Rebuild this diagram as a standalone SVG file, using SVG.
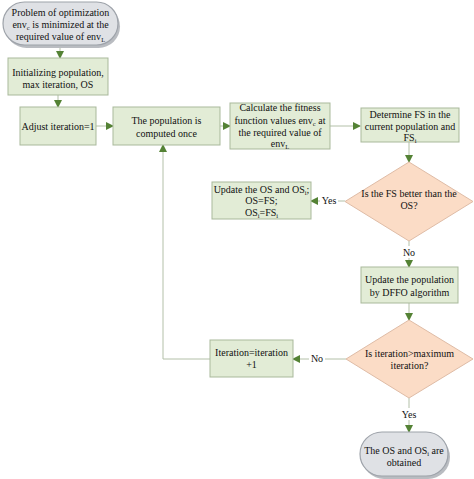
<svg xmlns="http://www.w3.org/2000/svg" width="474" height="479" viewBox="0 0 474 479">
<style>
text{font-family:"Liberation Serif","Times New Roman",serif;font-size:10px;fill:#111;text-anchor:middle}
.sub{font-size:6.5px}
.box{fill:#e2ecd6;stroke:#a9b99b;stroke-width:1}
.dia{fill:#fbdcc6;stroke:#dfbca6;stroke-width:1}
.term{fill:#dfe1e5;stroke:#9ea3aa;stroke-width:1.2}
.sh{fill:#b9bcc1}
.ln{fill:none;stroke:#b3c0a8;stroke-width:1}
.lbl{fill:#fff}
</style>
<defs>
<marker id="ah" markerWidth="8" markerHeight="8" refX="7" refY="4" orient="auto" markerUnits="userSpaceOnUse">
<path d="M0,0 L8,4 L0,8 Z" fill="#548235"/>
</marker>
</defs>
<rect width="474" height="479" fill="#fff"/>
<g id="connectors">
<path class="ln" d="M60,47 V58" marker-end="url(#ah)"/>
<path class="ln" d="M58,95 V107" marker-end="url(#ah)"/>
<path class="ln" d="M96,126 H113" marker-end="url(#ah)"/>
<path class="ln" d="M220,126 H230" marker-end="url(#ah)"/>
<path class="ln" d="M330,126 H360" marker-end="url(#ah)"/>
<path class="ln" d="M409,142 V162" marker-end="url(#ah)"/>
<path class="ln" d="M345,201 H311" marker-end="url(#ah)"/>
<path class="ln" d="M409,241 V267" marker-end="url(#ah)"/>
<path class="ln" d="M409,303 V320" marker-end="url(#ah)"/>
<path class="ln" d="M346,359 H293" marker-end="url(#ah)"/>
<path class="ln" d="M210,359 H163 V145" marker-end="url(#ah)"/>
<path class="ln" d="M409,398 V432" marker-end="url(#ah)"/>
<rect class="lbl" x="320" y="194" width="18" height="13"/>
<text x="329" y="204">Yes</text>
<rect class="lbl" x="401" y="246" width="16" height="12"/>
<text x="409" y="256">No</text>
<rect class="lbl" x="309" y="352" width="16" height="13"/>
<text x="317" y="362">No</text>
<rect class="lbl" x="399" y="408" width="20" height="12"/>
<text x="409" y="418">Yes</text>
</g>
<g id="start">
<rect class="sh" x="5" y="5" width="115" height="43" rx="21.5"/>
<rect class="term" x="3" y="2" width="115" height="43" rx="21.5"/>
<text x="60.5" y="16">Problem of optimization</text>
<text x="60.5" y="28">env<tspan class="sub" dy="2">c</tspan><tspan dy="-2"> is minimized at the</tspan></text>
<text x="60.5" y="40">required value of env<tspan class="sub" dy="2">L</tspan></text>
</g>
<g id="init">
<rect class="box" x="8" y="58" width="100" height="37"/>
<text x="58" y="76">Initializing population,</text>
<text x="58" y="88">max iteration, OS</text>
</g>
<g id="adjust">
<rect class="box" x="20" y="107" width="76" height="38"/>
<text x="58" y="130">Adjust iteration=1</text>
</g>
<g id="pop">
<rect class="box" x="113" y="107" width="107" height="38"/>
<text x="166.5" y="124">The population is</text>
<text x="166.5" y="137">computed once</text>
</g>
<g id="calc">
<rect class="box" x="230" y="103" width="100" height="46"/>
<text x="280" y="111">Calculate the fitness</text>
<text x="280" y="124">function values env<tspan class="sub" dy="2">c</tspan><tspan dy="-2"> at</tspan></text>
<text x="280" y="136">the required value of</text>
<text x="280" y="147">env<tspan class="sub" dy="2">L</tspan></text>
</g>
<g id="determine">
<rect class="box" x="361" y="108" width="98" height="34"/>
<text x="410" y="118">Determine FS in the</text>
<text x="410" y="130">current population and</text>
<text x="410" y="141">FS<tspan class="sub" dy="2">i</tspan></text>
</g>
<g id="dec1">
<polygon class="dia" points="409,162 473,201.5 409,241 345,201.5"/>
<text x="409" y="197">Is the FS better than the</text>
<text x="409" y="209">OS?</text>
</g>
<g id="updateos">
<rect class="box" x="212" y="182" width="99" height="37"/>
<text x="261.5" y="193">Update the OS and OS<tspan class="sub" dy="2">i</tspan><tspan dy="-2">;</tspan></text>
<text x="261.5" y="204">OS=FS;</text>
<text x="261.5" y="216">OS<tspan class="sub" dy="2">i</tspan><tspan dy="-2">=FS</tspan><tspan class="sub" dy="2">i</tspan></text>
</g>
<g id="dffo">
<rect class="box" x="361" y="267" width="97" height="36"/>
<text x="409.5" y="283">Update the population</text>
<text x="409.5" y="296">by DFFO algorithm</text>
</g>
<g id="dec2">
<polygon class="dia" points="409,320 473,359 409,398 346,359"/>
<text x="409.5" y="357">Is iteration&gt;maximum</text>
<text x="409.5" y="369">iteration?</text>
</g>
<g id="iter">
<rect class="box" x="210" y="340" width="83" height="37"/>
<text x="251.5" y="356">Iteration=iteration</text>
<text x="251.5" y="368">+1</text>
</g>
<g id="end">
<rect class="sh" x="362" y="435" width="88" height="44" rx="22"/>
<rect class="term" x="360" y="432" width="88" height="44" rx="22"/>
<text x="404" y="454">The OS and OS<tspan class="sub" dy="2">i</tspan><tspan dy="-2"> are</tspan></text>
<text x="404" y="466">obtained</text>
</g>
</svg>
